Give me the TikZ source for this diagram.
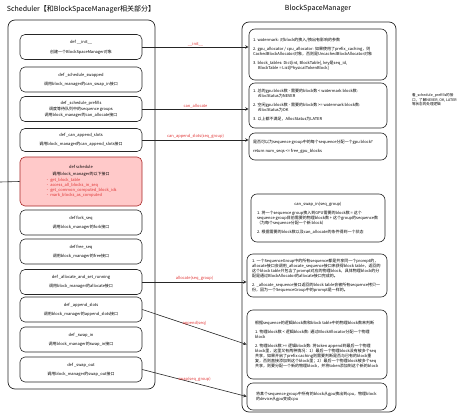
\documentclass[tikz,border=0pt]{standalone}
\usepackage{fontspec}
\setmainfont{Noto Sans CJK SC}
\XeTeXlinebreaklocale "zh"
\XeTeXlinebreakskip=0pt
\definecolor{exred}{HTML}{E03131}
\definecolor{expink}{HTML}{FFC9C9}

\begin{document}
\begin{tikzpicture}[
	x=1pt, y=-1pt,
	container/.style={
		rectangle,
		rounded corners=7pt,
		draw=black!85,
		line width=0.7pt
	},
	lbox/.style={
		rectangle,
		rounded corners=5pt,
		draw=black!85,
		line width=0.6pt,
		minimum width=122pt,
		minimum height=25pt,
		text width=118pt,
		align=flush center,
		inner sep=1pt,
		font=\fontsize{4}{5}\selectfont
	},
	hotbox/.style={lbox, draw=exred!75!black, fill=expink},
	rbox/.style={
		rectangle,
		rounded corners=6pt,
		draw=black!85,
		line width=0.6pt,
		minimum width=138pt,
		text width=130pt,
		align=flush left,
		inner xsep=4pt,
		inner ysep=2pt,
		font=\fontsize{4}{5}\selectfont
	},
	title/.style={font=\fontsize{7}{9}\selectfont},
	arrow/.style={-stealth, line width=0.6pt, draw=black!85},
	lbl/.style={font=\fontsize{4}{5}\selectfont, text=exred, inner sep=1pt}
]
\useasboundingbox (0,0) rectangle (474,415);

% 标题
\node[title] (schedtitle) at (81,9) {Scheduler【和BlockSpaceManager相关部分】};
\node[title] (bsmtitle) at (318,9) {BlockSpaceManager};

% 外框
\node[container, minimum width=147pt, minimum height=369pt] (schedbox) at (81.5,204.5) {};
\node[container, minimum width=154pt, minimum height=390pt] (bsmbox) at (319,217) {};

% 左侧: Scheduler 的方法
\node[lbox] (init) at (81,47) {def \_\_init\_\_\\[5pt] 创建一个BlockSpaceManager对象};
\node[lbox] (swapped) at (81,79.5) {def \_schedule\_swapped\\[4pt] 调用block\_manager的can\_swap\_in接口};
\node[lbox] (prefills) at (81,109) {def \_schedule\_prefills\\[1pt] 调度等待队列中的sequence groups\\[1pt] 调用block\_manager的can\_allocate接口};
\node[lbox, minimum height=23pt] (appendslots) at (81,140) {def \_can\_append\_slots\\[4pt] 调用block\_manager的can\_append\_slots接口};
\node[hotbox, minimum height=49pt] (sched) at (81,181.5) {
	def schedule\\[2pt]
	调用block\_manager的以下接口\\[1pt]
	{\color{exred}\begin{tabular}{@{}l@{}}
	• get\_block\_table\\
	• access\_all\_blocks\_in\_seq\\
	• get\_common\_computed\_block\_ids\\
	• mark\_blocks\_as\_computed
	\end{tabular}}
};
\node[lbox] (fork) at (81,222.5) {def fork\_seq\\[4pt] 调用block\_manager的fork接口};
\node[lbox] (free) at (81,251.5) {def free\_seq\\[4pt] 调用block\_manager的free接口};
\node[lbox] (allocate) at (81,282) {def \_allocate\_and\_set\_running\\[4pt] 调用block\_manager的allocate接口};
\node[lbox] (append) at (81,309.5) {def \_append\_slots\\[4pt] 调用block\_manager的append\_slots接口};
\node[lbox] (swapin) at (81,339.5) {def \_swap\_in\\[4pt] 调用block\_manager的swap\_in接口};
\node[lbox] (swapout) at (81,369.5) {def \_swap\_out\\[4pt] 调用block\_manager的swap\_out接口};

% 右侧: BlockSpaceManager
\node[rbox, minimum height=51pt] (members) at (318,54.5) {
	1. watermark: 对block的换入/换出有影响的参数\\[4pt]
	2. gpu\_allocator / cpu\_allocator: 如果使用了prefix\_caching，则\\
	CachedBlockAllocator对象，否则是UncachedBlockAllocator对象\\[4pt]
	3. block\_tables: Dict[int, BlockTable], key是seq\_id,\\
	\hspace*{5pt}BlockTable = List[PhysicalTokenBlock]
};
\node[rbox, minimum height=45pt] (canalloc) at (318,105.5) {
	1. 总的gpu block数 - 需要的block数 < watermark block数:\\
	\hspace*{5pt}AllocStatus为NEVER\\[4pt]
	2. 空闲gpu block数 - 需要的block数 >= watermark block数:\\
	\hspace*{5pt}AllocStatus为OK\\[4pt]
	3. 以上都不满足，AllocStatus为LATER
};
\node[rbox, minimum height=27pt] (canappend) at (318,146.5) {
	是否可以为sequence group中的每个sequence分配一个gpu block?\\[4pt]
	return num\_seqs <= free\_gpu\_blocks
};
\node[rbox, minimum height=48pt, minimum width=134pt, text width=122pt] (canswapin) at (318,218) {
	\makebox[\linewidth]{can\_swap\_in(seq\_group)}\\[4pt]
	1. 将一个sequence group换入到GPU需要的block数 = 这个sequence group目前需要的物理block数 + 这个group的sequence数（为每个sequence分配一个新 block）\\[4pt]
	2. 根据需要的block数以及can\_allocate的条件得到一个状态
};
\node[rbox, minimum height=43pt, minimum width=140pt, text width=130pt] (allocr) at (317,275.5) {
	1. 一个SequenceGroup中的所有sequence都是共享同一个prompt的，allocate接口会调用\_allocate\_sequence接口来获得block table，返回的这个block table只包含了prompt对应的物理block，具体物理block的分配是通过BlockAllocator的allocate接口完成的。\\[4pt]
	2. \_allocate\_sequence接口返回的block table会被所有sequence拷贝一份，因为一个SequenceGroup中的prompt是一样的。
};
\node[rbox, minimum height=69pt, minimum width=140pt, text width=124pt] (appendr) at (317,344.5) {
	根据sequence的逻辑block数和block table中的物理block数来判断\\[4pt]
	1. 物理block数 < 逻辑block数: 通过BlockAllocator分配一个物理block\\[4pt]
	2. 物理block数 >= 逻辑block数: 将token append到最后一个物理block里，这里又有两种情况：1）最后一个物理block没有被多个seq共享，如果开启了prefix caching则需要判断是否与已有的block重复，否则直接添加到这个block里；2）最后一个物理block被多个seq共享，则要分配一个新的物理block，并将token添加到这个新的block
};
\node[rbox, minimum height=27pt, minimum width=140pt, text width=122pt] (swapr) at (317,396.5) {
	将某个sequence group中所有的block从gpu换出到cpu，物理block的device从gpu变成cpu
};

% 备注
\node[font=\fontsize{3.6}{4.6}\selectfont, text width=48pt, align=flush left, inner sep=0pt] (note) at (436,100) {看\_schedule\_prefills的接口，了解NEVER, OK, LATER等状态的处理逻辑};

% 连接线
\coordinate (ext) at (0,182);
\draw[line width=0.6pt, draw=black!85] (ext) -- (sched.west);
\draw[arrow] (init.east) -- (init.east -| members.west) node[lbl, midway, above] {\_\_init\_\_};
\draw[arrow] (prefills.east) -- (prefills.east -| canalloc.west) node[lbl, midway, above] {can\_allocate};
\draw[arrow] (appendslots.east) -- (appendslots.east -| canappend.west) node[lbl, midway, above] {can\_append\_slots(seq\_group)};
\draw[arrow] (allocate.east) -- (allocate.east -| allocr.west) node[lbl, midway, above] {allocate(seq\_group)};
\draw[arrow] (append.east) -- (appendr.west) node[lbl, midway, above] {append(seq)};
\draw[arrow] (swapout.east) -- (swapr.west) node[lbl, midway, above] {swap(seq\_group)};

\end{tikzpicture}
\end{document}
